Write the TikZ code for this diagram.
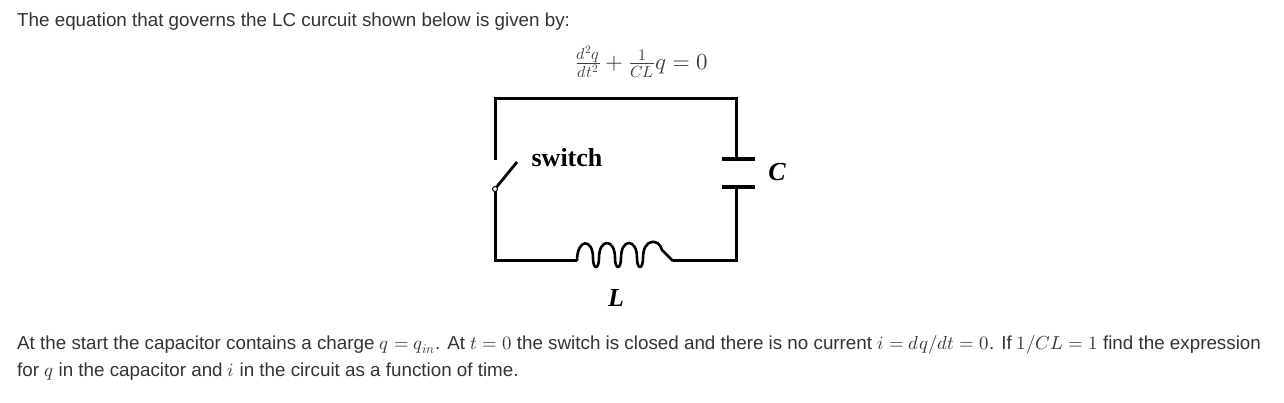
\documentclass[tikz,border=0pt]{standalone}
\usepackage{fontspec}
\setmainfont{Liberation Sans}
\newfontfamily\serifb{Liberation Serif}
\usepackage{unicode-math}
\setmathfont{Latin Modern Math}
\begin{document}
\begin{tikzpicture}[x=1pt,y=-1pt,
  wire/.style={line width=3pt},
  txt/.style={anchor=base west,inner sep=0pt,text=black!80,font=\fontsize{18.8}{22}\selectfont},
  lbl/.style={inner sep=0pt,font=\serifb\bfseries\fontsize{26}{30}\selectfont}]
\useasboundingbox (0,0) rectangle (1284,403);
\node[txt] (t1) at (17,27) {The equation that governs the LC curcuit shown below is given by:};
\node[inner sep=0pt,text=black!75,font=\fontsize{23}{26}\selectfont] (eq) at (642,62) {$\frac{d^2q}{dt^2}+\frac{1}{CL}q=0$};
\coordinate (tl) at (495,99);
\coordinate (tr) at (736,99);
\coordinate (bl) at (495,261);
\coordinate (br) at (736,261);
\coordinate (s1) at (495,160);
\coordinate (sp) at (495,189);
\coordinate (sb) at (517,162);
\coordinate (c1) at (736,159);
\coordinate (c2) at (736,187);
\coordinate (l1) at (577,261);
\coordinate (l2) at (673,261);
\draw[wire] (s1) -- (tl) -- (tr) -- (c1);
\draw[wire] (c2) -- (br) -- (l2);
\draw[wire] (l1) -- (bl) -- (sp);
\draw[line width=4pt] (722,159) -- (755,159);
\draw[line width=4pt] (722,187) -- (755,187);
\draw[line width=2.8pt] (sp) -- (sb);
\draw[line width=1pt,fill=white] (sp) circle (2.5);
\draw[line width=2.6pt,line join=round] (l1)
  .. controls (577,238) and (593,238) .. (593,258)
  .. controls (593,270) and (599,270) .. (599,258)
  .. controls (599,238) and (615,238) .. (615,258)
  .. controls (615,270) and (621,270) .. (621,258)
  .. controls (621,238) and (637,238) .. (637,258)
  .. controls (637,270) and (643,270) .. (643,258)
  .. controls (643,238) and (659,238) .. (662,250) -- (l2);
\node[lbl] (sw) at (567,158) {switch};
\node[lbl] (C) at (777,172) {\itshape C};
\node[lbl] (L) at (616,298) {\itshape L};
\node[txt] (t2) at (17,349) {At the start the capacitor contains a charge $q=q_{in}$. At $t=0$ the switch is closed and there is no current $i=dq/dt=0$. If $1/CL=1$ find the expression};
\node[txt] (t3) at (17,376) {for $q$ in the capacitor and $i$ in the circuit as a function of time.};
\end{tikzpicture}
\end{document}
